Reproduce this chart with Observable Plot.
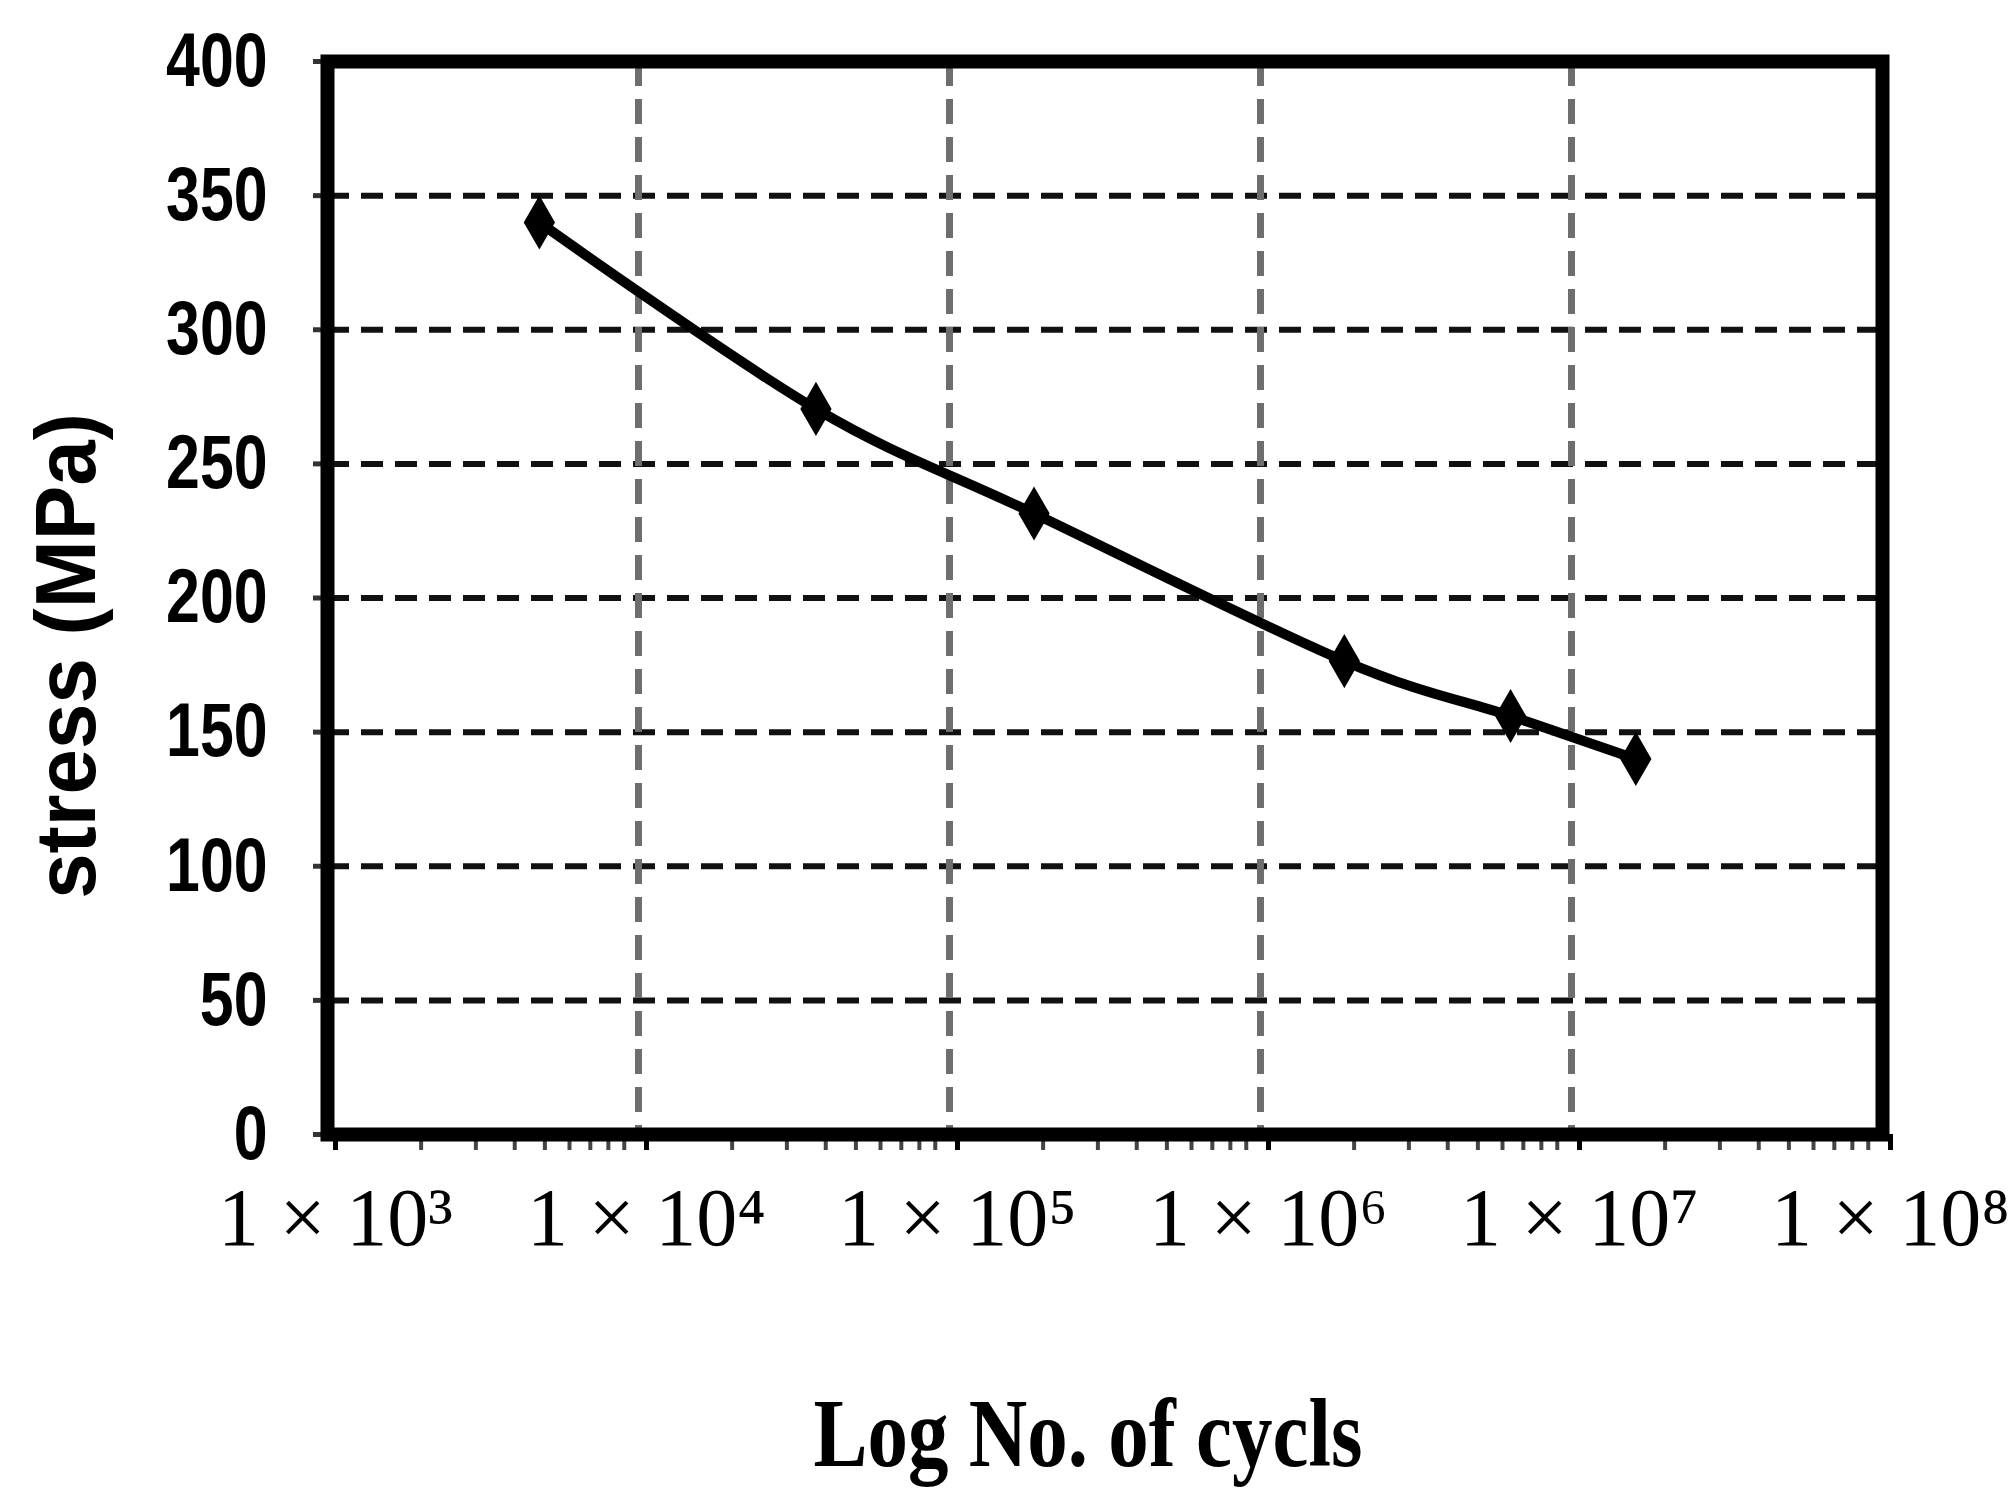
<!DOCTYPE html>
<html><head><meta charset="utf-8">
<script src="https://cdn.jsdelivr.net/npm/d3@7"></script>
<script src="https://cdn.jsdelivr.net/npm/@observablehq/plot@0.6"></script>
<style>body{margin:0;background:#fff}</style>
</head><body><div id="chart"></div>
<script>
const cycles = [4.8e3, 3.72e4, 1.87e5, 1.86e6, 6.37e6, 1.61e7];
const stress = [340, 270.5, 231.5, 176.5, 156, 140];
const yTicks = [0, 50, 100, 150, 200, 250, 300, 350, 400];
const xTicks = [1e3, 1e4, 1e5, 1e6, 1e7, 1e8];
const xTickLabels = ["1 × 10³", "1 × 10⁴", "1 × 10⁵", "1 × 10⁶", "1 × 10⁷", "1 × 10⁸"];
const minorMultipliers = [2, 3, 4, 5, 6, 7, 8, 9];
const yTitle = "stress (MPa)";
const xTitle = "Log No. of cycls";

const data = cycles.map((c, i) => ({cycles: c, stress: stress[i]}));
const minorTicks = xTicks.slice(0, -1).flatMap(d => minorMultipliers.map(m => m * d));

const chart = Plot.plot({
  width: 2013,
  height: 1511,
  marginLeft: 327,
  marginRight: 131,
  marginTop: 61,
  marginBottom: 377,
  style: {background: "#fff"},
  x: {type: "log", domain: [1e3, 1e8]},
  y: {domain: [0, 400]},
  marks: [
    Plot.gridY({ticks: yTicks, stroke: "#111", strokeOpacity: 1, strokeWidth: 6, strokeDasharray: "22,12"}),
    Plot.gridX({ticks: xTicks, stroke: "#6e6e6e", strokeOpacity: 1, strokeWidth: 7, strokeDasharray: "25,13"}),
    Plot.axisY({ticks: yTicks, tickSize: 14, tickPadding: 46, strokeWidth: 5, stroke: "#333", tickFormat: d => String(d),
      fontSize: 76, fontWeight: "bold", fontFamily: "Liberation Sans, Arial, sans-serif", label: null}),
    Plot.axisX({ticks: minorTicks, tickSize: 16, strokeWidth: 4, stroke: "#444", tickFormat: () => "", label: null}),
    Plot.axisX({ticks: xTicks, tickSize: 16, tickPadding: 36, strokeWidth: 5, dx: 8,
      tickFormat: d => xTickLabels[xTicks.indexOf(d)],
      fontSize: 82, fontFamily: "Liberation Serif, serif", label: null}),
    Plot.line(data, {x: "cycles", y: "stress", curve: "cardinal", stroke: "black", strokeWidth: 10}),
    Plot.dot(data, {x: "cycles", y: "stress", symbol: "diamond", r: 14, fill: "black", stroke: "black", strokeWidth: 4}),
    Plot.frame({stroke: "black", strokeWidth: 14}),
    Plot.text([yTitle], {text: d => d, frameAnchor: "left", textAnchor: "middle", lineAnchor: "middle", rotate: -90,
      dx: -260, dy: 58,
      fontSize: 86, fontWeight: "bold", fontFamily: "Liberation Sans, Arial, sans-serif", fill: "black"}),
    Plot.text([xTitle], {text: d => d, frameAnchor: "bottom", textAnchor: "middle", lineAnchor: "middle",
      dx: -17, dy: 300,
      fontSize: 97, fontWeight: "bold", fontFamily: "Liberation Serif, serif", fill: "black"})
  ]
});

function squeeze(filter, sx) {
  chart.querySelectorAll("text").forEach(t => {
    if (!filter(t)) return;
    const tr = t.getAttribute("transform") || "";
    t.setAttribute("transform", tr + ` scale(${sx},1)`);
  });
}
squeeze(t => yTicks.map(String).includes(t.textContent), 0.8);
squeeze(t => t.textContent === yTitle, 0.95);
squeeze(t => t.textContent === xTitle, 0.835);

document.getElementById("chart").appendChild(chart);
</script>
</body></html>
